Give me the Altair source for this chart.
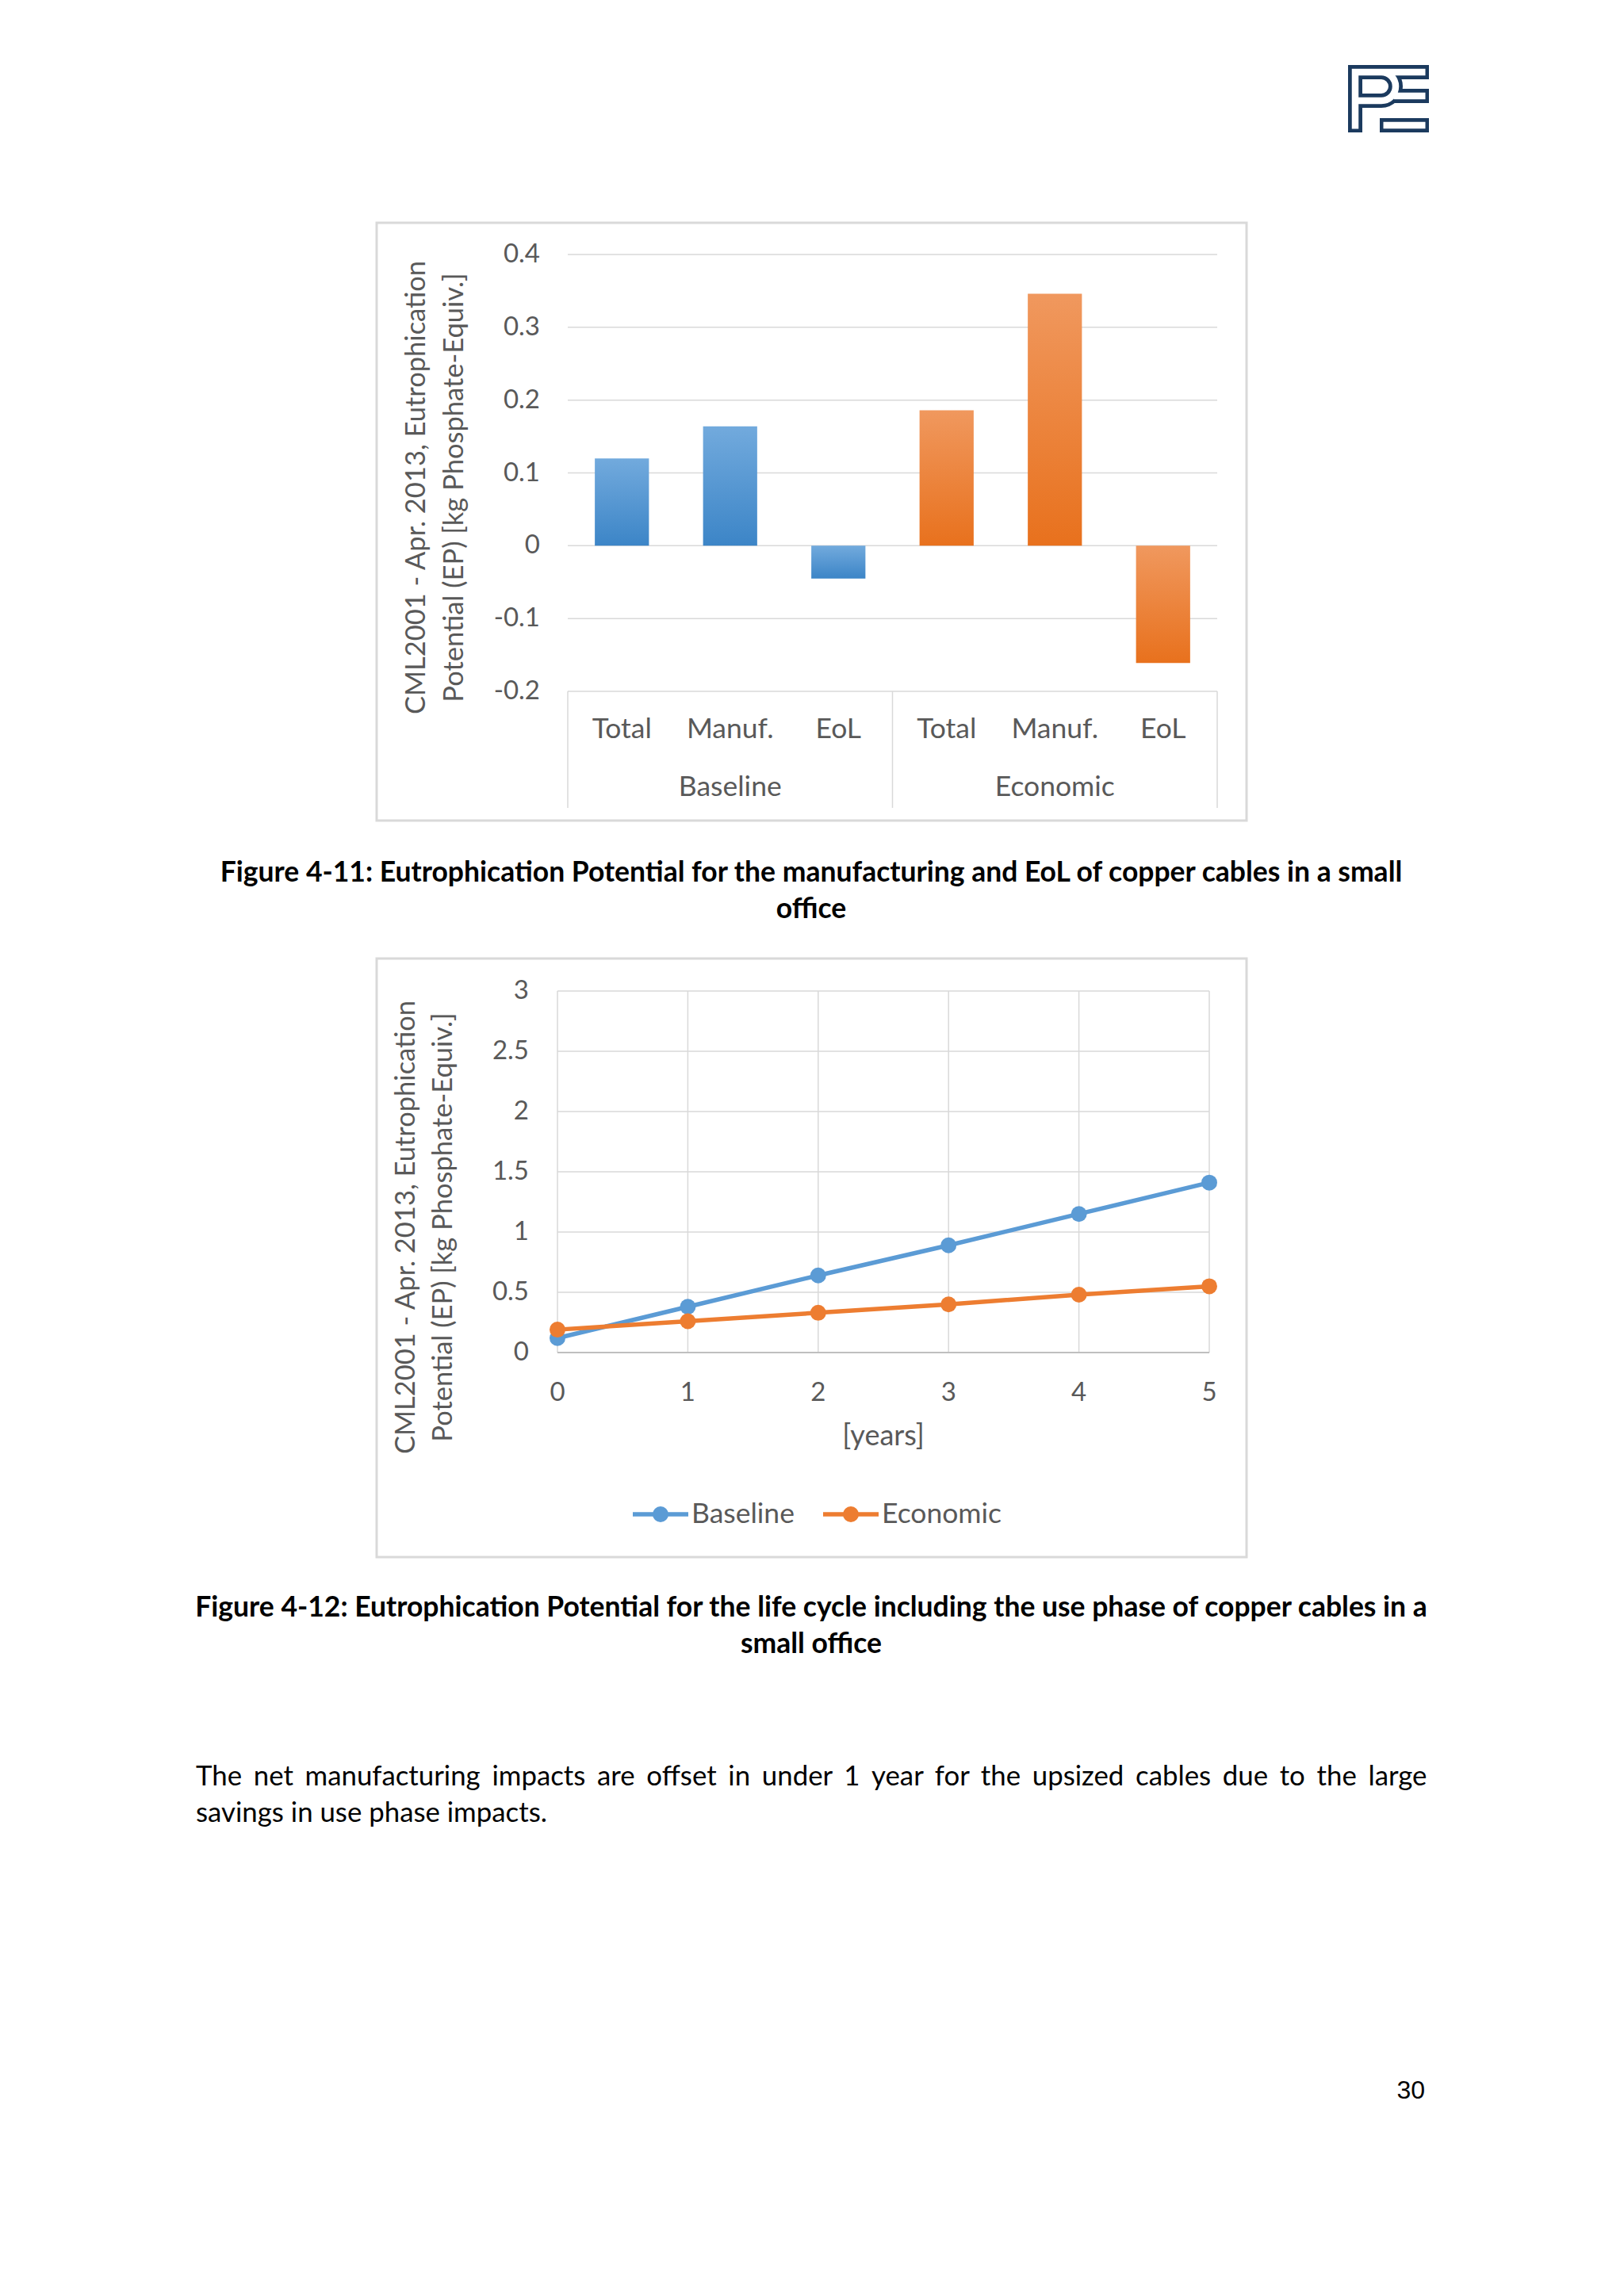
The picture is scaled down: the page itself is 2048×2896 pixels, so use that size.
import altair as alt
import pandas as pd

# ---------------- data ----------------
# Figure 4-11 (bar chart)
bar_groups = ["Baseline", "Baseline", "Baseline", "Economic", "Economic", "Economic"]
bar_stages = ["Total", "Manuf.", "EoL", "Total", "Manuf.", "EoL"]
bar_values = [0.12, 0.164, -0.045, 0.186, 0.346, -0.161]
bar_y_ticks = [-0.2, -0.1, 0.0, 0.1, 0.2, 0.3, 0.4]
bar_y_labels = ["-0.2", "-0.1", "0", "0.1", "0.2", "0.3", "0.4"]
group_names = ["Baseline", "Economic"]

# Figure 4-12 (line chart)
years = [0, 1, 2, 3, 4, 5]
baseline_ep = [0.12, 0.38, 0.64, 0.89, 1.15, 1.41]
economic_ep = [0.19, 0.26, 0.33, 0.40, 0.48, 0.55]
line_y_ticks = [0.0, 0.5, 1.0, 1.5, 2.0, 2.5, 3.0]
line_y_labels = ["0", "0.5", "1", "1.5", "2", "2.5", "3"]
line_x_labels = ["0", "1", "2", "3", "4", "5"]
series_names = ["Baseline", "Economic"]
series_colors = ["#5b9bd5", "#ed7d31"]
x_title = "[years]"

y_title_lines = ["CML2001 - Apr. 2013, Eutrophication", "Potential (EP) [kg Phosphate-Equiv.]"]
caption1 = ["Figure 4-11: Eutrophication Potential for the manufacturing and EoL of copper cables in a small", "office"]
caption2 = ["Figure 4-12: Eutrophication Potential for the life cycle including the use phase of copper cables in a", "small office"]
body_lines = ["The net manufacturing impacts are offset in under 1 year for the upsized cables due to the large",
              "savings in use phase impacts."]
page_number = "30"

# ---------------- styling ----------------
FONT = "Lato"
TXT = "#595959"
GRID = "#d9d9d9"
FRAME = "#d9d9d9"
M = 8  # page margin

def P(v):
    return v - M

one = pd.DataFrame({"k": [0]})
layers = []

def frame(x1, y1, x2, y2):
    return alt.Chart(one).mark_rect(fill="white", stroke=FRAME, strokeWidth=3).encode(
        x=alt.value(P(x1)), x2=alt.value(P(x2)), y=alt.value(P(y1)), y2=alt.value(P(y2)))

def text_at(t, x, y, size, color=TXT, angle=0, align="center", weight="normal", font=FONT):
    kw = dict(fontSize=size, font=font, color=color, align=align, baseline="middle", fontWeight=weight)
    if angle:
        kw["angle"] = angle
    return alt.Chart(pd.DataFrame({"t": [t]})).mark_text(**kw).encode(
        x=alt.value(P(x)), y=alt.value(P(y)), text="t:N")

# ============ Figure 4-11 ============
layers.append(frame(475, 281, 1572, 1035))

df1 = pd.DataFrame({
    "group": bar_groups, "stage": bar_stages, "value": bar_values,
    "key": [g + "|" + s for g, s in zip(bar_groups, bar_stages)],
})
keys = list(df1["key"])
x1 = alt.Scale(domain=keys, range=[P(716), P(1535)], paddingInner=0.5, paddingOuter=0.25)
y1 = alt.Scale(domain=[-0.2, 0.4], range=[P(872), P(321)], nice=False, zero=False)

tick1 = pd.DataFrame({"v": bar_y_ticks, "lab": bar_y_labels})
layers.append(alt.Chart(tick1).mark_rule(color=GRID, strokeWidth=1.5).encode(
    y=alt.Y("v:Q", scale=y1, axis=None), x=alt.value(P(716)), x2=alt.value(P(1535))))
layers.append(alt.Chart(tick1).mark_text(font=FONT, fontSize=33, color=TXT, align="right", baseline="middle").encode(
    y=alt.Y("v:Q", scale=y1, axis=None), x=alt.value(P(681)), text="lab:N"))

for xv in [716, 1125.5, 1535]:
    layers.append(alt.Chart(one).mark_rule(color=GRID, strokeWidth=1.5).encode(
        x=alt.value(P(xv)), y=alt.value(P(872)), y2=alt.value(P(1019))))

grads = {
    "Baseline": alt.LinearGradient(gradient="linear", x1=0, x2=0, y1=0, y2=1, stops=[
        alt.GradientStop(color="#72aadd", offset=0), alt.GradientStop(color="#3c85c7", offset=1)]),
    "Economic": alt.LinearGradient(gradient="linear", x1=0, x2=0, y1=0, y2=1, stops=[
        alt.GradientStop(color="#f0985e", offset=0), alt.GradientStop(color="#e8711d", offset=1)]),
}
for g in group_names:
    layers.append(alt.Chart(df1[df1["group"] == g]).mark_bar(color=grads[g]).encode(
        x=alt.X("key:N", scale=x1, axis=None, sort=keys),
        y=alt.Y("value:Q", scale=y1, axis=None),
        y2=alt.datum(0)))

layers.append(alt.Chart(df1).mark_text(font=FONT, fontSize=35.5, color=TXT, baseline="middle").encode(
    x=alt.X("key:N", scale=x1, axis=None, sort=keys), y=alt.value(P(920)), text="stage:N"))
gscale = alt.Scale(domain=group_names, range=[P(716), P(1535)], paddingInner=0, paddingOuter=0)
layers.append(alt.Chart(pd.DataFrame({"g": group_names})).mark_text(font=FONT, fontSize=35.5, color=TXT, baseline="middle").encode(
    x=alt.X("g:N", scale=gscale, axis=None), y=alt.value(P(993)), text="g:N"))

layers.append(text_at(y_title_lines[0], 526, 615, 34.5, angle=270))
layers.append(text_at(y_title_lines[1], 574, 615, 34.5, angle=270))

# captions
CAP = 35.5
layers.append(text_at(caption1[0], 1023, 1101, CAP, color="black", weight="bold"))
layers.append(text_at(caption1[1], 1023, 1147, CAP, color="black", weight="bold"))

# ============ Figure 4-12 ============
layers.append(frame(475, 1209, 1572, 1964))
x2s = alt.Scale(domain=[0, 5], range=[P(703), P(1525)], nice=False, zero=False)
y2s = alt.Scale(domain=[0, 3], range=[P(1706), P(1250)], nice=False, zero=False)

tick2 = pd.DataFrame({"v": line_y_ticks, "lab": line_y_labels})
xt2 = pd.DataFrame({"v": years, "lab": line_x_labels})
layers.append(alt.Chart(tick2).mark_rule(color=GRID, strokeWidth=1.5).encode(
    y=alt.Y("v:Q", scale=y2s, axis=None), x=alt.value(P(703)), x2=alt.value(P(1525))))
layers.append(alt.Chart(xt2).mark_rule(color=GRID, strokeWidth=1.5).encode(
    x=alt.X("v:Q", scale=x2s, axis=None), y=alt.value(P(1250)), y2=alt.value(P(1706))))
layers.append(alt.Chart(pd.DataFrame({"v": [0.0]})).mark_rule(color="#bfbfbf", strokeWidth=2).encode(
    y=alt.Y("v:Q", scale=y2s, axis=None), x=alt.value(P(703)), x2=alt.value(P(1525))))
layers.append(alt.Chart(tick2).mark_text(font=FONT, fontSize=33, color=TXT, align="right", baseline="middle").encode(
    y=alt.Y("v:Q", scale=y2s, axis=None), x=alt.value(P(667)), text="lab:N"))
layers.append(alt.Chart(xt2).mark_text(font=FONT, fontSize=33, color=TXT, align="center", baseline="middle").encode(
    x=alt.X("v:Q", scale=x2s, axis=None), y=alt.value(P(1757)), text="lab:N"))
layers.append(text_at(x_title, 1114, 1812, 36))

df2 = pd.DataFrame({
    "year": years * 2,
    "ep": baseline_ep + economic_ep,
    "series": [series_names[0]] * len(years) + [series_names[1]] * len(years),
})
cscale = alt.Scale(domain=series_names, range=series_colors)
LW = 5.5
MS = 400
for s in series_names:
    sub = df2[df2["series"] == s]
    layers.append(alt.Chart(sub).mark_line(strokeWidth=LW).encode(
        x=alt.X("year:Q", scale=x2s, axis=None), y=alt.Y("ep:Q", scale=y2s, axis=None),
        color=alt.Color("series:N", scale=cscale, legend=None)))
    layers.append(alt.Chart(sub).mark_point(filled=True, size=MS, opacity=1).encode(
        x=alt.X("year:Q", scale=x2s, axis=None), y=alt.Y("ep:Q", scale=y2s, axis=None),
        color=alt.Color("series:N", scale=cscale, legend=None)))

# legend
for s, c, (lx1, lx2, tx) in zip(series_names, series_colors, [(798, 868, 872), (1038, 1108, 1112)]):
    layers.append(alt.Chart(one).mark_rule(color=c, strokeWidth=LW).encode(
        x=alt.value(P(lx1)), x2=alt.value(P(lx2)), y=alt.value(P(1910))))
    layers.append(alt.Chart(one).mark_point(filled=True, size=MS, opacity=1, color=c).encode(
        x=alt.value(P((lx1 + lx2) / 2)), y=alt.value(P(1910))))
    layers.append(text_at(s, tx, 1910, 35.5, align="left"))

layers.append(text_at(y_title_lines[0], 513, 1548, 34.5, angle=270))
layers.append(text_at(y_title_lines[1], 560, 1548, 34.5, angle=270))

layers.append(text_at(caption2[0], 1023, 2028, CAP, color="black", weight="bold"))
layers.append(text_at(caption2[1], 1023, 2074, CAP, color="black", weight="bold"))

# body text (first line justified by widening word gaps) and page number
body_first = body_lines[0].replace(" ", " \u2006")
layers.append(text_at(body_first, 247, 2242, 34.8, color="black", align="left"))
layers.append(text_at(body_lines[1], 247, 2288, 34.8, color="black", align="left"))
layers.append(text_at(page_number, 1797, 2637, 32, color="black", align="right", font="Liberation Sans"))

# logo (decorative), drawn as double stroke
def u(X):
    return (X - 1751) / 50
def v(Y):
    return (Y - 124) / 50

def logo_path(inset):
    i = inset
    parts = [
        f"M{u(1802 - i):.3f},{v(91):.3f}H{u(1709):.3f}V{v(167 - i):.3f}",
        f"M{u(1742):.3f},{v(91):.3f}A0.36,0.36 0 0 1 {u(1742):.3f},{v(127):.3f}H{u(1709):.3f}",
        f"M{u(1758):.3f},{v(121):.3f}H{u(1802 - i):.3f}",
        f"M{u(1740 + i):.3f},{v(158):.3f}H{u(1802 - i):.3f}",
    ]
    return "".join(parts)

NAVY = "#1b3a5e"
layers.append(alt.Chart(one).mark_point(shape=logo_path(0), size=10000, filled=False, stroke=NAVY,
                                        strokeWidth=18, strokeCap="butt", strokeJoin="miter", opacity=1).encode(
    x=alt.value(P(1751)), y=alt.value(P(124))))
layers.append(alt.Chart(one).mark_point(shape=logo_path(4.5), size=10000, filled=False, stroke="white",
                                        strokeWidth=8.5, strokeCap="butt", strokeJoin="miter", opacity=1).encode(
    x=alt.value(P(1751)), y=alt.value(P(124))))

chart = alt.layer(*layers).resolve_scale(x="independent", y="independent", color="independent").properties(
    width=2032, height=2880, autosize=alt.AutoSizeParams(type="none"), padding=0, background="white"
).configure_view(strokeWidth=0)

chart.save("out.html", embed_options={"renderer": "svg", "actions": False})
